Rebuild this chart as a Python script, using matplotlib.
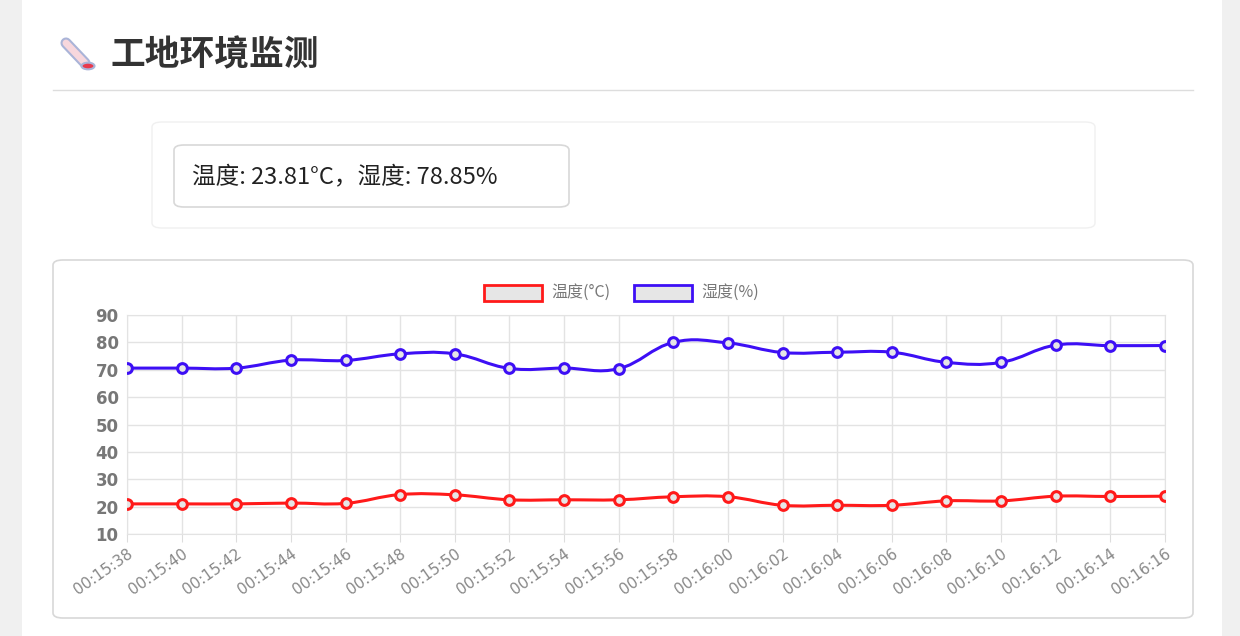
import matplotlib.pyplot as plt
from matplotlib.patches import FancyBboxPatch, Rectangle, Circle, PathPatch
from matplotlib.path import Path
import numpy as np

plt.rcParams['font.family'] = ['Noto Sans CJK SC', 'DejaVu Sans']

times = ["00:15:38", "00:15:40", "00:15:42", "00:15:44", "00:15:46", "00:15:48", "00:15:50",
         "00:15:52", "00:15:54", "00:15:56", "00:15:58", "00:16:00", "00:16:02", "00:16:04",
         "00:16:06", "00:16:08", "00:16:10", "00:16:12", "00:16:14", "00:16:16"]
temperature = [21.0, 21.0, 21.0, 21.3, 21.2, 24.4, 24.3, 22.5, 22.5, 22.5,
               23.6, 23.6, 20.5, 20.5, 20.5, 22.1, 22.1, 23.8, 23.7, 23.81]
humidity = [70.6, 70.6, 70.6, 73.5, 73.4, 75.8, 75.8, 70.5, 70.6, 70.4,
            80.0, 79.8, 76.3, 76.4, 76.4, 72.7, 72.7, 79.0, 78.8, 78.85]

fig = plt.figure(figsize=(12.4, 6.36), dpi=100)
fig.patch.set_facecolor('#f0f0f0')
W, H = 1240, 636

def px(x, y):
    return x / W, 1 - y / H

# white page card
fig.patches.append(Rectangle(px(22, 636), 1200 / W, 636 / H, transform=fig.transFigure,
                             facecolor='white', edgecolor='none', zorder=0))
# title
fig.text(*px(110, 55), "工地环境监测", fontsize=25, fontweight='bold', color='#333333', va='center')
# small diagonal thermometer icon
x0, y0 = px(66, 43)
x1, y1 = px(85, 63)
fig.lines.append(plt.Line2D([x0, x1], [y0, y1], transform=fig.transFigure, color='#aab4d8',
                            linewidth=8, solid_capstyle='round', zorder=2))
fig.lines.append(plt.Line2D([x0, x1], [y0, y1], transform=fig.transFigure, color='#f7d7dd',
                            linewidth=5, solid_capstyle='round', zorder=3))
fig.patches.append(Circle(px(88, 66), 6.5 / W, transform=fig.transFigure,
                          facecolor='#e8394d', edgecolor='#aab4d8', linewidth=1.5, zorder=4))
fig.lines.append(plt.Line2D([px(53, 0)[0], px(1193, 0)[0]], [px(0, 90)[1]] * 2,
                            transform=fig.transFigure, color='#dddddd', linewidth=1))

# status box
fig.patches.append(FancyBboxPatch(px(152, 228), 943 / W, 106 / H, boxstyle="round,pad=0,rounding_size=0.008",
                                  transform=fig.transFigure, facecolor='white',
                                  edgecolor='#f0f0f0', linewidth=1, zorder=1))
fig.patches.append(FancyBboxPatch(px(174, 207), 395 / W, 62 / H, boxstyle="round,pad=0,rounding_size=0.008",
                                  transform=fig.transFigure, facecolor='white',
                                  edgecolor='#d8d8d8', linewidth=1.2, zorder=2))
fig.text(*px(192, 178), "温度: 23.81°C，湿度: 78.85%", fontsize=17, color='#222222', va='center')

# chart card
fig.patches.append(FancyBboxPatch(px(53, 618), 1140 / W, 358 / H, boxstyle="round,pad=0,rounding_size=0.008",
                                  transform=fig.transFigure, facecolor='white',
                                  edgecolor='#d8d8d8', linewidth=1.2, zorder=1))

ax = fig.add_axes([127 / W, 1 - 534 / H, (1165 - 127) / W, (534 - 315) / H], zorder=3)
ax.set_facecolor('none')
x = np.arange(len(times))


def smooth_path(xs, ys, t=0.4):
    verts = [(xs[0], ys[0])]
    codes = [Path.MOVETO]
    n = len(xs)
    for i in range(n - 1):
        p0 = (xs[max(i - 1, 0)], ys[max(i - 1, 0)])
        p1 = (xs[i], ys[i])
        p2 = (xs[i + 1], ys[i + 1])
        p3 = (xs[min(i + 2, n - 1)], ys[min(i + 2, n - 1)])
        c1 = (p1[0] + (p2[0] - p0[0]) * t / 2, p1[1] + (p2[1] - p0[1]) * t / 2)
        c2 = (p2[0] - (p3[0] - p1[0]) * t / 2, p2[1] - (p3[1] - p1[1]) * t / 2)
        verts += [c1, c2, p2]
        codes += [Path.CURVE4] * 3
    return Path(verts, codes)


for ys, col in [(temperature, '#ff1a1a'), (humidity, '#3d0ff5')]:
    ax.add_patch(PathPatch(smooth_path(x, ys), facecolor='none', edgecolor=col, linewidth=2.2, zorder=4))
    ax.plot(x, ys, 'o', markersize=7, markerfacecolor='#e6e6e6', markeredgecolor=col,
            markeredgewidth=2.2, zorder=5)

ax.set_xlim(0, len(times) - 1)
ax.set_ylim(10, 90)
ax.set_yticks(range(10, 91, 10))
ax.set_yticklabels([str(v) for v in range(10, 91, 10)], family='DejaVu Sans', fontsize=12,
                   color='#777777', fontweight='bold')
ax.set_xticks(x)
ax.set_xticklabels(times, rotation=35, ha='right', rotation_mode='anchor', fontsize=11, color='#888888',
                   family='DejaVu Sans')
ax.tick_params(axis='y', length=0, pad=6)
ax.tick_params(axis='x', length=6, color='#dddddd', pad=3)
ax.grid(True, color='#e3e3e3', linewidth=1)
for s in ax.spines.values():
    s.set_color('#e3e3e3')

# legend
for lx, col, label in [(484, '#ff1a1a', "温度(°C)"), (634, '#3d0ff5', "湿度(%)")]:
    fig.patches.append(Rectangle(px(lx, 301), 58 / W, 16 / H, transform=fig.transFigure,
                                 facecolor='#e6e6e6', edgecolor=col, linewidth=2, zorder=4))
    fig.text(*px(lx + 67, 292), label, fontsize=11.5, color='#777777', va='center')

fig.savefig('out.png', dpi=100, facecolor=fig.get_facecolor())
